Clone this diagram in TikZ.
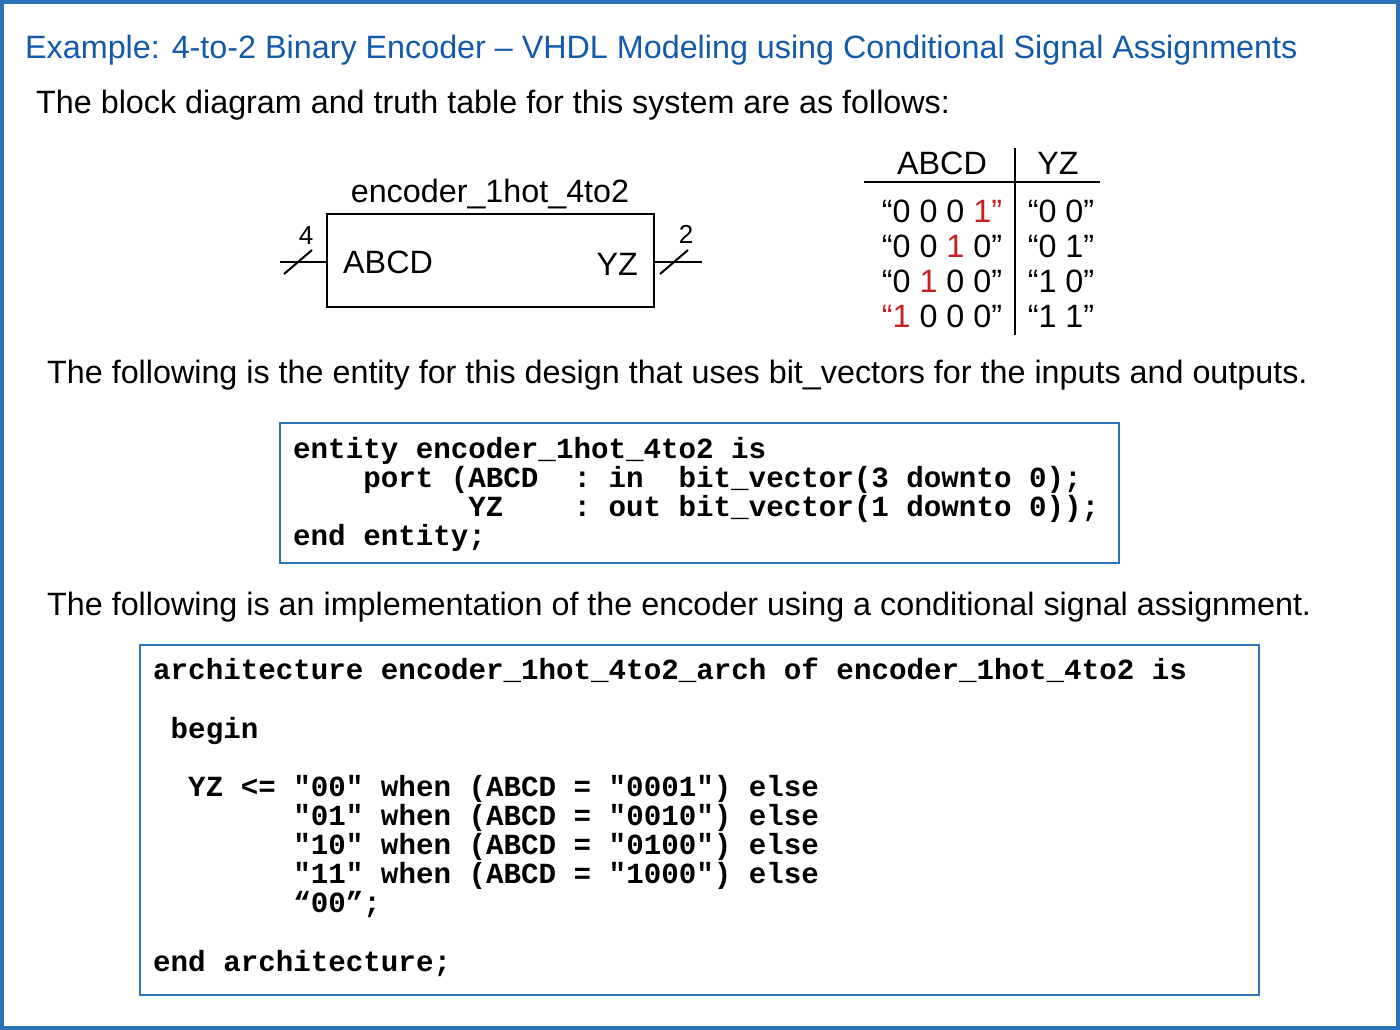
\documentclass[tikz,border=0pt]{standalone}
\usepackage{fontspec}
\setmainfont{Liberation Sans}
\setmonofont{Liberation Mono}
\definecolor{ttl}{RGB}{20,90,170}
\definecolor{frm}{RGB}{45,115,185}
\definecolor{rd}{RGB}{200,30,30}
\begin{document}
\begin{tikzpicture}[x=1pt,y=-1pt,
  txt/.style={anchor=base west,inner sep=0pt,font=\fontsize{32.3}{34}\selectfont},
  code/.style={anchor=base west,inner sep=0pt,font=\fontsize{29.2}{30}\selectfont\ttfamily\bfseries},
  tb/.style={anchor=base,inner sep=0pt,font=\fontsize{32.3}{34}\selectfont},
  box/.style={draw=frm,line width=2pt}]
\useasboundingbox (0,0) rectangle (1400,1030);
\draw[frm,line width=4pt] (2,2) rectangle (1398,1028);
\node[txt,text=ttl] (title) at (25,59) {Example: 4-to-2 Binary Encoder -- VHDL Modeling using Conditional Signal Assignments};
\node[txt] (l1) at (36,114) {The block diagram and truth table for this system are as follows:};
% block
\draw[line width=2pt] (327,214) rectangle (654,307);
\node[tb] (nm) at (490,202) {encoder\_1hot\_4to2};
\node[txt] (abcd) at (343,273) {ABCD};
\node[txt,anchor=base east] (yz) at (638,275) {YZ};
\coordinate (i0) at (280,262); \coordinate (i1) at (327,262);
\coordinate (o0) at (654,262); \coordinate (o1) at (702,262);
\draw[line width=2pt] (i0) -- (i1) (o0) -- (o1);
\draw[line width=2pt] (284,274) -- (312,250) (660,274) -- (688,250);
\node[tb,font=\fontsize{26}{28}\selectfont] (n4) at (306,244) {4};
\node[tb,font=\fontsize{26}{28}\selectfont] (n2) at (686,243) {2};
% table
\node[tb] (h1) at (942,175) {ABCD};
\node[tb] (h2) at (1058,175) {YZ};
\draw[line width=2pt] (864,182) -- (1100,182);
\draw[line width=2pt] (1015,148) -- (1015,335);
\node[tb] (r1) at (942,222) {“0 0 0 \textcolor{rd}{1"}};
\node[tb] (r2) at (942,257) {“0 0 \textcolor{rd}{1} 0"};
\node[tb] (r3) at (942,292) {“0 \textcolor{rd}{1} 0 0"};
\node[tb] (r4) at (942,327) {\textcolor{rd}{“1} 0 0 0"};
\node[tb] (s1) at (1061,222) {“0 0"};
\node[tb] (s2) at (1061,257) {“0 1"};
\node[tb] (s3) at (1061,292) {“1 0"};
\node[tb] (s4) at (1061,327) {“1 1"};
\node[txt] (l3) at (47,383) {The following is the entity for this design that uses bit\_vectors for the inputs and outputs.};
\draw[box] (280,423) rectangle (1119,563);
\node[code] (e1) at (293,458) {entity encoder\_1hot\_4to2 is};
\node[code] (e2) at (293,487) {~~~~port (ABCD~~: in~~bit\_vector(3 downto 0);};
\node[code] (e3) at (293,516) {~~~~~~~~~~YZ~~~~: out bit\_vector(1 downto 0));};
\node[code] (e4) at (293,545) {end entity;};
\node[txt] (l4) at (47,615) {The following is an implementation of the encoder using a conditional signal assignment.};
\draw[box] (140,645) rectangle (1259,995);
\node[code] (a1) at (153,679) {architecture encoder\_1hot\_4to2\_arch of encoder\_1hot\_4to2 is};
\node[code] (a2) at (153,738) {~begin};
\node[code] (a3) at (153,796) {~~YZ <= "00" when (ABCD = "0001") else};
\node[code] (a4) at (153,825) {~~~~~~~~"01" when (ABCD = "0010") else};
\node[code] (a5) at (153,854) {~~~~~~~~"10" when (ABCD = "0100") else};
\node[code] (a6) at (153,883) {~~~~~~~~"11" when (ABCD = "1000") else};
\node[code] (a7) at (153,912) {~~~~~~~~“00”;};
\node[code] (a8) at (153,971) {end architecture;};
\end{tikzpicture}
\end{document}
